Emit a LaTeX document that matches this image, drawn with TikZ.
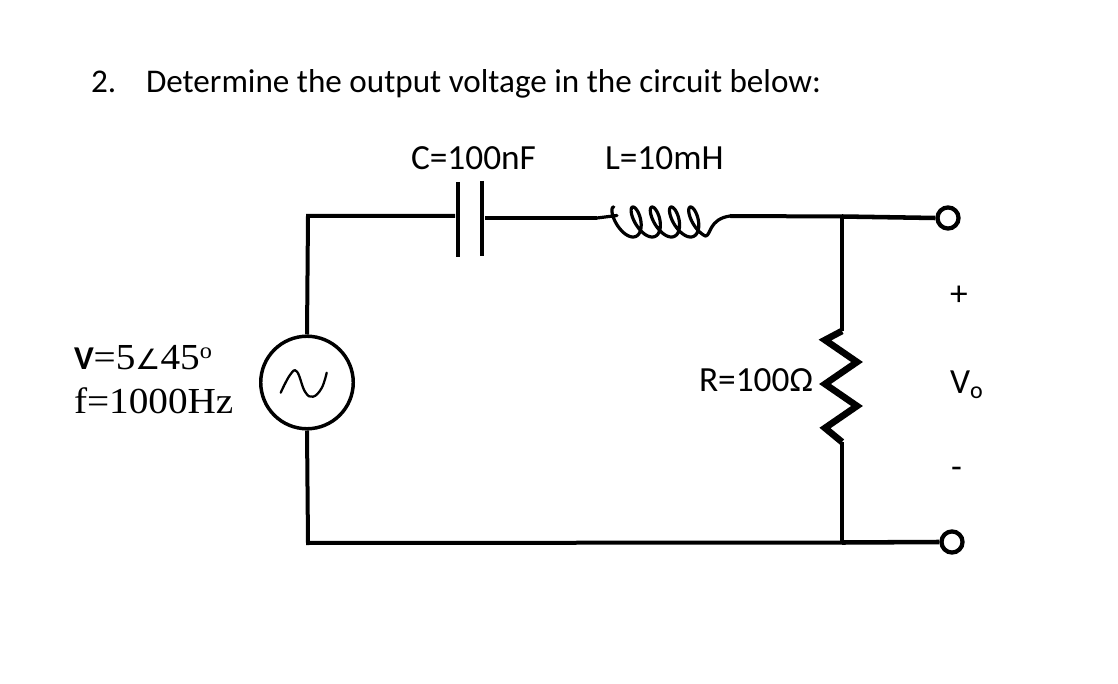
\documentclass[tikz,border=0pt]{standalone}
\usepackage{fontspec}
\setmainfont{Carlito}
\newfontfamily\srf[FakeStretch=1.07]{Liberation Serif}
\newfontfamily\angfont{DejaVu Sans}
\begin{document}
\begin{tikzpicture}[x=0.75pt,y=-0.75pt,
  wire/.style={line width=3pt,line join=miter,line cap=butt},
  heavy wire/.style={line width=3.4pt,line join=miter,line cap=butt},
  plate/.style={line width=3pt},
  res/.style={line width=5pt,line join=miter},
  coil/.style={line width=2.4pt,line cap=round,line join=round},
  thin wire/.style={line width=2.4pt,line cap=round},
  term/.style={circle,draw,line width=3.2pt,fill=white,minimum size=15.8pt,inner sep=0pt},
  src/.style={circle,draw,line width=2.6pt,fill=white,minimum size=69.4pt,inner sep=0pt},
  lab/.style={anchor=base west,inner sep=0pt,outer sep=0pt,font=\fontsize{26.5}{30}\selectfont},
  title/.style={anchor=base west,inner sep=0pt,outer sep=0pt,font=\fontsize{24.85}{28}\selectfont},
  serif/.style={anchor=base west,inner sep=0pt,outer sep=0pt,font=\fontsize{27.5}{32}\selectfont\srf},
]
\useasboundingbox (0,0) rectangle (1118,684);
\fill[white] (0,0) rectangle (1118,684);

% text
\node[title] (num) at (91,93) {2.};
\node[title] (ttl) at (146,93) {Determine the output voltage in the circuit below:};
\node[lab] (lc) at (411,170) {C=100nF};
\node[lab] (ll) at (605,170) {L=10mH};
\node[lab] (lr) at (699,392) {R=100Ω};
\node[lab] (lv) at (950,393) {V\raisebox{-4pt}{\fontsize{18}{20}\selectfont o}};
\node[lab] (lp) at (950,306) {+};
\node[lab] (lm) at (951,478) {-};
\node[serif] (lvs) at (74,370) {{\fontsize{25}{29}\selectfont\rmfamily\bfseries V}=5{\angfont\fontsize{21}{25}\selectfont ∠}45\raisebox{9pt}{\fontsize{17}{20}\selectfont o}};
\node[serif] (lf) at (74,413) {f=1000Hz};

% coordinates
\coordinate (tl) at (308,216);
\coordinate (bl) at (308,543);
\coordinate (c1) at (455,216);
\coordinate (c2) at (485,218);
\coordinate (p1a) at (458,182);
\coordinate (p1b) at (458,257);
\coordinate (p2a) at (482,181);
\coordinate (p2b) at (482,256);
\coordinate (l1) at (597,218);
\coordinate (l1b) at (617,215.5);
\coordinate (l2) at (730,216);
\coordinate (jt) at (842,216.5);
\coordinate (jb) at (842,542.5);
\coordinate (r1) at (842,331);
\coordinate (r2) at (842,442);

% source and terminals
\node[src] (vs) at (307,382.5) {};
\node[term] (tt) at (948,218) {};
\node[term] (tb) at (952,542) {};

% wires
\draw[wire] (vs.north) -- (tl) -- (c1);
\draw[wire] (vs.south) -- (bl) -- (jb);
\draw[heavy wire] (jb) -- (tb.west);
\draw[plate] (p1a) -- (p1b);
\draw[plate] (p2a) -- (p2b);
\draw[wire] (c2) -- (l1);
\draw[wire] (l2) -- (jt);
\draw[heavy wire] (jt) -- (tt.west);
\draw[wire] (jt) -- (r1);
\draw[wire] (r2) -- (jb);

% inductor
\draw[thin wire] (l1) -- (l1b);
\draw[coil] plot[domain=0:1600,samples=220,smooth] ({618.6+0.05333*\x-8*sin(\x)-4.8*cos(\x)},{222-15*cos(\x)}) .. controls (711,235) and (709,219) .. (l2);

% resistor
\draw[res] (r1) -- (825,340) -- (857,362) -- (825,384) -- (857,406) -- (825,428) -- (r2);

% source symbol
\draw[line width=1.7pt,line cap=round] plot[smooth,tension=0.7] coordinates {(280.7,392.7) (290,375) (297,371.7) (305,391.7) (313,396.7) (321.7,388) (326.7,372.7)};
\end{tikzpicture}
\end{document}
